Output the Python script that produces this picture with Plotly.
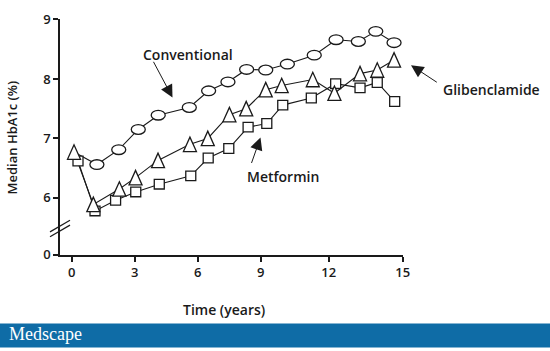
import plotly.graph_objects as go

# ---------------- data ----------------
conv_x = [1.20, 2.24, 3.17, 4.12, 5.60, 6.52, 7.44, 8.33, 9.24, 10.27, 11.55, 12.59, 13.65, 14.48, 15.35]
conv_y = [6.56, 6.81, 7.15, 7.39, 7.52, 7.80, 7.95, 8.16, 8.15, 8.25, 8.40, 8.66, 8.63, 8.80, 8.61]

glib_x = [0.11, 1.03, 2.27, 3.04, 4.11, 5.63, 6.48, 7.51, 8.31, 9.24, 10.00, 11.48, 12.51, 13.73, 14.55, 15.35]
glib_y = [6.77, 5.89, 6.15, 6.34, 6.63, 6.90, 7.00, 7.40, 7.50, 7.82, 7.89, 7.99, 7.76, 8.09, 8.15, 8.32]

metf_x = [0.30, 1.11, 2.09, 3.05, 4.17, 5.67, 6.50, 7.48, 8.40, 9.29, 10.05, 11.41, 12.57, 13.73, 14.55, 15.38]
metf_y = [6.62, 5.78, 5.96, 6.10, 6.23, 6.37, 6.67, 6.83, 7.19, 7.25, 7.56, 7.68, 7.92, 7.85, 7.94, 7.62]

x_tick_text = ["0", "3", "6", "9", "12", "15"]
x_tick_vals = [0, 3, 6, 9, 12.24, 15.76]
y_tick_text = ["0", "6", "7", "8", "9"]

# ---------------- layout geometry ----------------
W, H = 550, 351
ML, MR, MT, MB = 60, 147, 10, 96
PW, PH = W - ML - MR, H - MT - MB
X_RANGE = [-0.557, 15.776]
Y_RANGE = [5.039, 9.008]
y_tick_vals = [Y_RANGE[0] + 0.002, 6, 7, 8, 9]

DX = (X_RANGE[1] - X_RANGE[0]) / PW   # data units per pixel
DY = (Y_RANGE[1] - Y_RANGE[0]) / PH

INK = "#1a1a1a"
FONT = "Open Sans"


def px(xp):
    return (xp - ML) / PW


def py(yp):
    return (H - MB - yp) / PH


fig = go.Figure()

line_style = dict(color=INK, width=1.1)
fig.add_trace(go.Scatter(x=[glib_x[0]] + conv_x, y=[glib_y[0]] + conv_y, mode="lines",
                         line=line_style, name="Conventional", hoverinfo="skip"))
fig.add_trace(go.Scatter(x=glib_x, y=glib_y, mode="lines", line=line_style,
                         name="Glibenclamide", hoverinfo="skip"))
fig.add_trace(go.Scatter(x=metf_x, y=metf_y, mode="lines", line=line_style,
                         name="Metformin", hoverinfo="skip"))

shapes = []
mk_line = dict(color=INK, width=1.3)

# squares (metformin)
sq = 5
for x, y in zip(metf_x, metf_y):
    shapes.append(dict(type="rect", xref="x", yref="y",
                       x0=x - sq * DX, x1=x + sq * DX, y0=y - sq * DY, y1=y + sq * DY,
                       line=mk_line, fillcolor="white", layer="above"))

# triangles (glibenclamide)
tw, th = 6.5, 7.5
for x, y in zip(glib_x, glib_y):
    path = "M {:.4f},{:.4f} L {:.4f},{:.4f} L {:.4f},{:.4f} Z".format(
        x - tw * DX, y - th * DY, x + tw * DX, y - th * DY, x, y + th * DY)
    shapes.append(dict(type="path", xref="x", yref="y", path=path,
                       line=mk_line, fillcolor="white", layer="above"))

# ellipses (conventional)
ew, eh = 7, 5
for x, y in zip(conv_x, conv_y):
    shapes.append(dict(type="circle", xref="x", yref="y",
                       x0=x - ew * DX, x1=x + ew * DX, y0=y - eh * DY, y1=y + eh * DY,
                       line=mk_line, fillcolor="white", layer="above"))

# axis break marks
for off in (0, 5):
    shapes.append(dict(type="line", xref="paper", yref="paper",
                       x0=px(50), y0=py(231 + off), x1=px(70), y1=py(219 + off),
                       line=dict(color=INK, width=1.2)))

# Medscape banner
shapes.append(dict(type="rect", xref="paper", yref="paper",
                   x0=px(0), x1=px(W), y0=py(H), y1=py(326),
                   line=dict(width=0), fillcolor="#0f6ca6", layer="below"))

annotations = []
lab_font = dict(family=FONT, size=14, color=INK, weight=600)

for text, cx, cy in [("Conventional", 188, 47), ("Metformin", 283, 173), ("Glibenclamide", 491, 83)]:
    annotations.append(dict(text=text, xref="paper", yref="paper", x=px(cx), y=py(cy),
                            xanchor="center", yanchor="middle", showarrow=False, font=lab_font))

for tip, tail in [((172.5, 91.5), (152.7, 54.3)), ((260.5, 133), (251, 160)), ((411, 58), (438.3, 76))]:
    annotations.append(dict(text="", xref="paper", yref="paper", x=px(tip[0]), y=py(tip[1]),
                            ax=tail[0] - tip[0], ay=tail[1] - tip[1], showarrow=True,
                            arrowhead=2, arrowsize=2.5, arrowwidth=1, arrowcolor=INK, standoff=0))

annotations.append(dict(text="Time (years)", xref="paper", yref="paper", x=px(224), y=py(312),
                        xanchor="center", yanchor="middle", showarrow=False, font=lab_font))
annotations.append(dict(text="Median HbA1c (%)", xref="paper", yref="paper", x=px(12), y=py(133),
                        xanchor="center", yanchor="middle", textangle=-90, showarrow=False,
                        font=dict(family=FONT, size=13, color=INK, weight=600)))
annotations.append(dict(text="Medscape", xref="paper", yref="paper", x=px(7), y=py(337.5),
                        xanchor="left", yanchor="middle", showarrow=False,
                        font=dict(family="Liberation Serif", size=18, color="white")))

axis_common = dict(showgrid=False, zeroline=False, showline=True, linecolor=INK, linewidth=1.5,
                   ticks="outside", ticklen=5, tickwidth=1.5, tickcolor=INK,
                   tickfont=dict(family=FONT, size=13, color=INK, weight=600), fixedrange=True)

fig.update_layout(
    width=W, height=H, autosize=False,
    margin=dict(l=ML, r=MR, t=MT, b=MB, pad=0),
    paper_bgcolor="white", plot_bgcolor="white",
    showlegend=False,
    xaxis=dict(range=X_RANGE, tickmode="array", tickvals=x_tick_vals, ticktext=x_tick_text, **axis_common),
    yaxis=dict(range=Y_RANGE, tickmode="array", tickvals=y_tick_vals, ticktext=y_tick_text, **axis_common),
    shapes=shapes, annotations=annotations,
)

fig.write_html("out.html")
